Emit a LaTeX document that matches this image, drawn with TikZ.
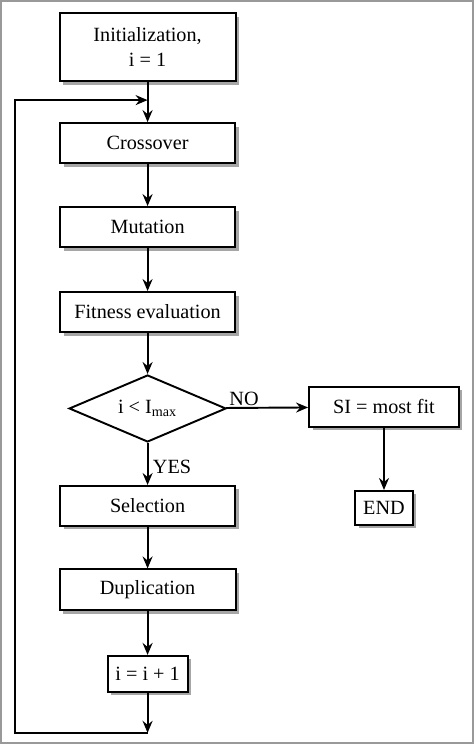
\documentclass[tikz,border=0pt]{standalone}
\usepackage{fontspec}
\setmainfont{Liberation Serif}
\usepackage{tikz}
\usetikzlibrary{shapes.geometric,arrows.meta,shadows}

\begin{document}
\begin{tikzpicture}[
		font=\fontsize{11.5}{14}\selectfont,
		box/.style={draw, line width=1.1pt, fill=white, inner sep=0pt, minimum width=3.5cm, minimum height=0.8cm,
			drop shadow={shadow xshift=0.07cm, shadow yshift=-0.07cm, fill=gray, opacity=0.7}},
		test/.style={draw, diamond, aspect=2.35, line width=1.1pt, inner sep=0pt, minimum width=3.14cm, minimum height=1.34cm},
		arr/.style={line width=1.1pt, -{Stealth[length=2.4mm, width=2mm, inset=0.8mm]}}
	]
		
		\draw[gray!80, line width=1.3pt] (0.02,0.02) rectangle (9.46,14.86);
		\useasboundingbox (0,0) rectangle (9.48,14.88);
		
		\node[box, align=center, minimum width=3.52cm, minimum height=1.36cm] (init) at (2.95,13.94) {Initialization,\\i = 1};
		\node[box] (cross) at (2.95,12.02) {Crossover};
		\node[box] (mut) at (2.95,10.34) {Mutation};
		\node[box] (fit) at (2.95,8.64) {Fitness evaluation};
		\node[test] (cond) at (2.95,6.71) {i < I\textsubscript{max}};
		\node[box, minimum width=3.0cm] (si) at (7.68,6.74) {SI = most fit};
		\node[box, minimum width=1.16cm, minimum height=0.68cm] (end) at (7.68,4.72) {END};
		\node[box] (sel) at (2.95,4.76) {Selection};
		\node[box, minimum width=3.52cm, minimum height=0.82cm] (dup) at (2.95,3.08) {Duplication};
		\node[box, minimum width=1.6cm, minimum height=0.72cm] (inc) at (2.95,1.40) {i = i + 1};
		
		\node (no) at (4.88,6.90) {NO};
		\node (yes) at (3.44,5.54) {YES};
		
		\coordinate (top) at (2.95,12.88);
		\coordinate (b1) at (2.95,0.22);
		\coordinate (b2) at (0.30,0.22);
		\coordinate (b3) at (0.30,12.88);
		
		\draw[arr] (init) to (cross);
		\draw[arr] (cross) to (mut);
		\draw[arr] (mut) to (fit);
		\draw[arr] (fit) to (cond);
		\draw[arr] (cond) to (sel);
		\draw[arr] (cond) to (si);
		\draw[arr] (si) to (end);
		\draw[arr] (sel) to (dup);
		\draw[arr] (dup) to (inc);
		\draw[arr] (inc) to (b1);
		
		\draw[arr] (b1) -- (b2) -- (b3) -- (top);
		
	\end{tikzpicture}
\end{document}
